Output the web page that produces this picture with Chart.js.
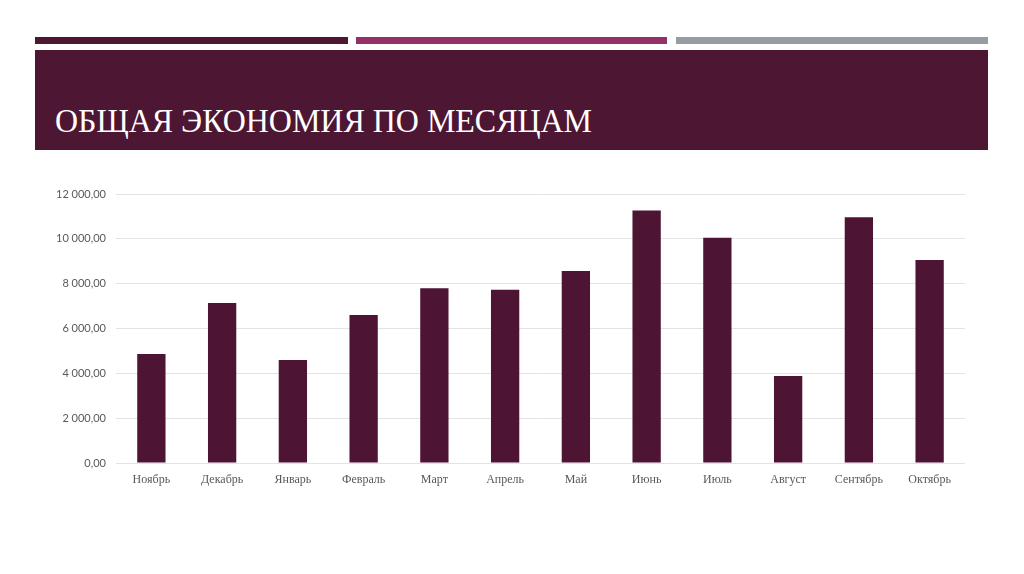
<!DOCTYPE html>
<html><head><meta charset="utf-8">
<script src="https://cdn.jsdelivr.net/npm/chart.js@4"></script>
<style>
html,body{margin:0;padding:0;background:#fff;width:1024px;height:574px;overflow:hidden;}
.strip{position:absolute;top:37px;height:7px;}
#banner{position:absolute;left:35px;top:50px;width:953px;height:100px;background:#4D1633;}
#title{position:absolute;left:55px;top:101px;color:#fff;font-family:"Liberation Serif",serif;font-size:34px;line-height:40px;white-space:nowrap;transform:scaleX(0.94);transform-origin:left top;}
#wrap{position:absolute;left:0;top:0;width:1024px;height:574px;}
</style></head>
<body>
<div class="strip" style="left:35px;width:313px;background:#4D1633"></div>
<div class="strip" style="left:356px;width:311px;background:#933167"></div>
<div class="strip" style="left:676px;width:312px;background:#969CA4"></div>
<div id="banner"></div>
<div id="title">ОБЩАЯ ЭКОНОМИЯ ПО МЕСЯЦАМ</div>
<div id="wrap"><canvas id="c" width="1024" height="574"></canvas></div>
<script>
const categories = ["Ноябрь","Декабрь","Январь","Февраль","Март","Апрель","Май","Июнь","Июль","Август","Сентябрь","Октябрь"];
const savings = [4860,7140,4600,6600,7800,7730,8560,11260,10050,3880,10960,9060];
const yTicks = [0,2000,4000,6000,8000,10000,12000];

function fmt(v){
  const s = Math.round(v).toString().replace(/\B(?=(\d{3})+(?!\d))/g," ");
  return s + ",00";
}

new Chart(document.getElementById("c"), {
  type: "bar",
  data: {
    labels: categories,
    datasets: [{
      data: savings,
      backgroundColor: "#4D1533",
      borderWidth: 0,
      barPercentage: 1.0,
      categoryPercentage: 0.4
    }]
  },
  options: {
    responsive: false,
    animation: false,
    devicePixelRatio: 1,
    layout: { padding: { left: 0, right: 59, top: 194, bottom: 0 } },
    plugins: { legend: { display: false }, tooltip: { enabled: false } },
    scales: {
      x: {
        grid: { display: false },
        border: { display: false },
        ticks: { color: "#595959", font: { family: "Liberation Serif", size: 12 }, padding: 2, maxRotation: 0 },
        afterFit: s => { s.height = 111; }
      },
      y: {
        min: 0, max: 12000,
        afterBuildTicks: s => { s.ticks = yTicks.map(v => ({ value: v })); },
        grid: { color: "#E3E3E3", drawTicks: false, lineWidth: 1 },
        border: { display: false },
        ticks: { color: "#595959", font: { family: "Lato", size: 11 }, padding: 10, callback: v => fmt(v) },
        afterFit: s => { s.width = 116; }
      }
    }
  }
});
</script>
</body></html>
